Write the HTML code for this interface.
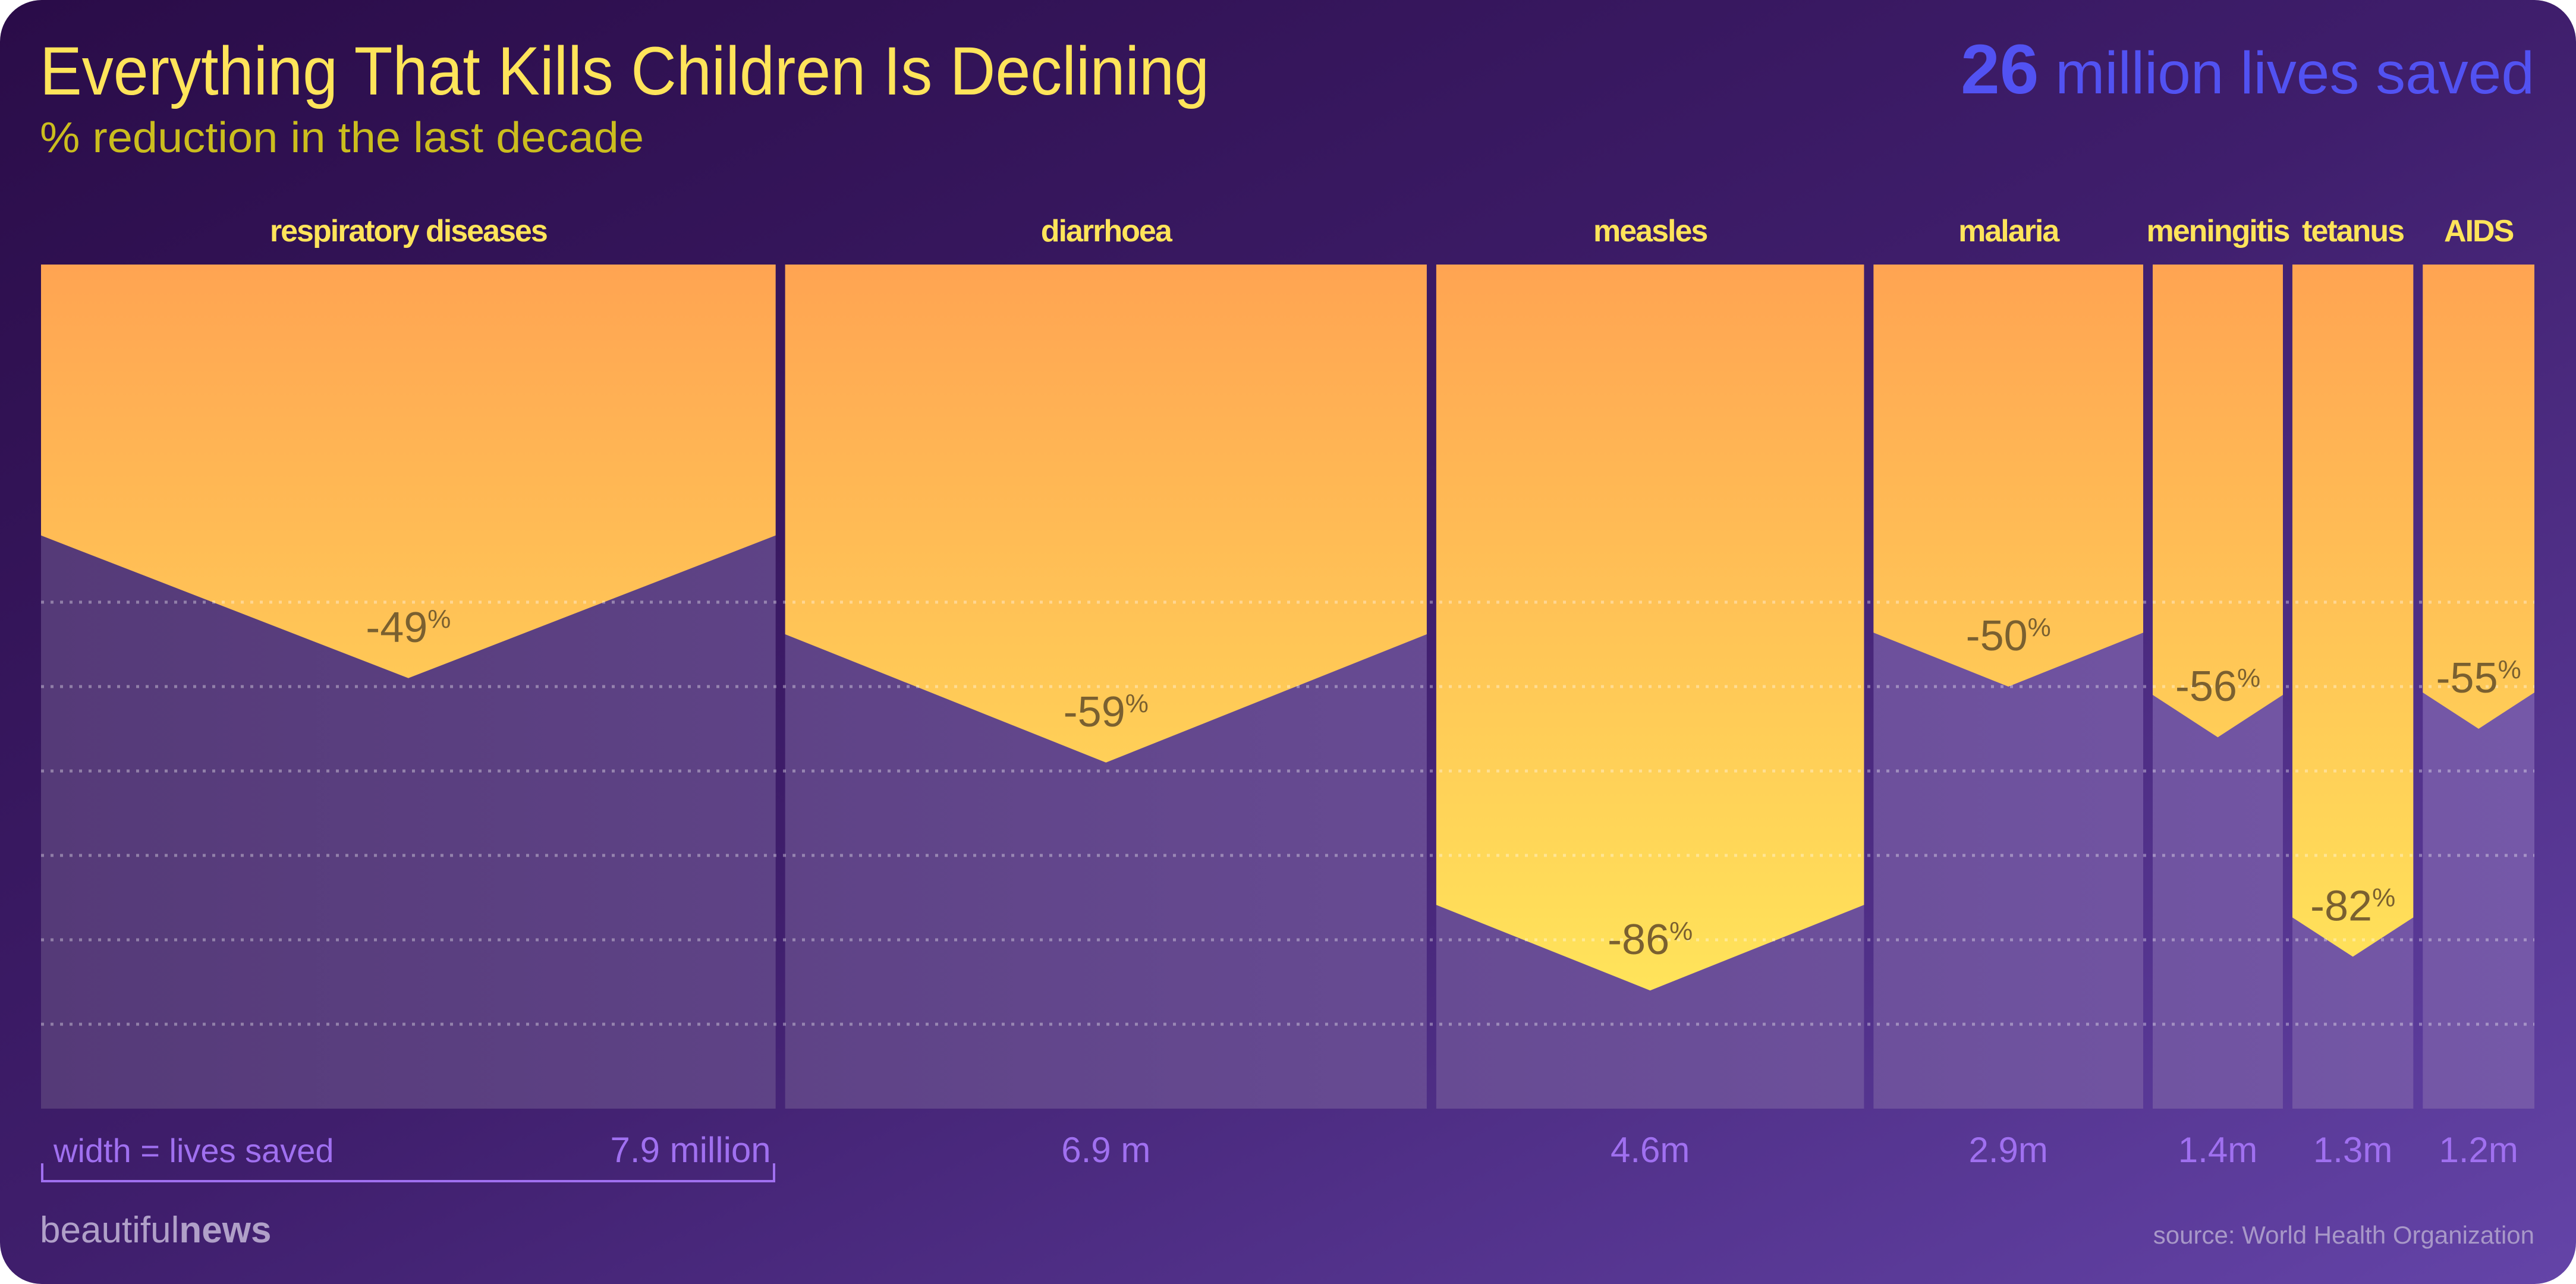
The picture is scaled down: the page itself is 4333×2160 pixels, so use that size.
<!DOCTYPE html>
<html><head><meta charset="utf-8"><style>
html,body{margin:0;padding:0;background:#fff;}
svg{display:block;}
text{font-family:"Liberation Sans","DejaVu Sans",sans-serif;}
</style></head><body>
<svg id="chart" width="4333" height="2160" viewBox="0 0 4333 2160" xmlns="http://www.w3.org/2000/svg">
<defs>
<linearGradient id="bg" x1="0" y1="0" x2="1" y2="1">
<stop offset="0" stop-color="#2a0c48"/><stop offset="0.5" stop-color="#3f1e6c"/><stop offset="1" stop-color="#6444a8"/>
</linearGradient>
<linearGradient id="pur" gradientUnits="userSpaceOnUse" x1="69" y1="0" x2="4263" y2="0">
<stop offset="0" stop-color="#553a78"/><stop offset="1" stop-color="#7558a8"/>
</linearGradient>
<linearGradient id="org" gradientUnits="userSpaceOnUse" x1="0" y1="445" x2="0" y2="1865">
<stop offset="0" stop-color="#ffa452"/><stop offset="0.85" stop-color="#ffe35a"/><stop offset="1" stop-color="#fff05c"/>
</linearGradient>
</defs>
<rect x="0" y="0" width="4333" height="2160" rx="70" fill="url(#bg)"/>
<text x="67" y="159" font-size="115" fill="#ffe45a" textLength="1967" lengthAdjust="spacingAndGlyphs">Everything That Kills Children Is Declining</text>
<text x="67" y="256" font-size="72" fill="#cbbd1e" textLength="1016" lengthAdjust="spacingAndGlyphs">% reduction in the last decade</text>
<text x="4263" y="157" font-size="118" fill="#5252f2" text-anchor="end"><tspan font-weight="bold">26</tspan><tspan font-size="100"> million lives saved</tspan></text>
<g id="panels"></g>
<g id="grid"></g>
<g id="labels"></g>
<text x="90" y="1955" font-size="56" fill="#a070f0">width = lives saved</text>
<path d="M71 1957 V1987 H1302 V1957" fill="none" stroke="#a070f0" stroke-width="4"/>
<text x="67" y="2090" font-size="62" fill="#b0a0c8">beautiful<tspan font-weight="bold">news</tspan></text>
<text x="4263" y="2092" font-size="42" fill="#a898c8" text-anchor="end">source: World Health Organization</text>
</svg>
<script>
const categories = ["respiratory diseases","diarrhoea","measles","malaria","meningitis","tetanus","AIDS"];
const livesSaved = [7.9,6.9,4.6,2.9,1.4,1.3,1.2];
const reductions = [49,59,86,50,56,82,55];
const livesLabels = ["7.9 million","6.9 m","4.6m","2.9m","1.4m","1.3m","1.2m"];
const gridTicks = [40,50,60,70,80,90];

const NS="http://www.w3.org/2000/svg";
const X0=69, X1=4263, GAP=16, TOP=445, BOT=1865;
const total=livesSaved.reduce((a,b)=>a+b,0);
const usable=(X1-X0)-GAP*(categories.length-1);
const xw=v=>v/total*usable;
const yp=p=>TOP+p/100*(BOT-TOP);
function mk(tag,attrs,parent){const e=document.createElementNS(NS,tag);for(const k in attrs)e.setAttribute(k,attrs[k]);parent.appendChild(e);return e;}
const panels=document.getElementById('panels'), grid=document.getElementById('grid'), labels=document.getElementById('labels');
let x=X0;
categories.forEach((c,i)=>{
  const w=xw(livesSaved[i]), half=w/2, cx=x+half;
  const tip=yp(reductions[i]);
  const drop=half>200?Math.min(0.40*half,240):0.65*half;
  const g=mk('g',{},panels);
  
  
  const r=mk('rect',{x:x,y:TOP,width:w,height:BOT-TOP,fill:'url(#pur)'},g);
  
  
  const p=mk('polygon',{points:`${x},${TOP} ${x+w},${TOP} ${x+w},${tip-drop} ${cx},${tip} ${x},${tip-drop}`,fill:'url(#org)'},g);
  
  
  const t=mk('text',{x:cx,y:406,'font-size':52,'font-weight':'bold',fill:'#ffe45a','text-anchor':'middle','letter-spacing':-2},labels);
  t.textContent=c;
  
  
  const v=mk('text',{x:cx,y:tip-61,'font-size':72,fill:'#7a6030','text-anchor':'middle'},labels);
  
  
  const s1=mk('tspan',{},v); s1.textContent='-'+reductions[i];
  const s2=mk('tspan',{'font-size':44,dy:-24},v); s2.textContent='%';
  const isFirst=i===0;
  const b=mk('text',{x:isFirst?x+w-8:cx,y:1955,'font-size':60,fill:'#a070f0','text-anchor':isFirst?'end':'middle'},labels);
  b.textContent=livesLabels[i];
  
  
  x+=w+GAP;
});
gridTicks.forEach(t=>{
  const l=mk('line',{x1:X0,x2:X1,y1:yp(t),y2:yp(t),stroke:'#ffffff','stroke-opacity':0.35,'stroke-width':5,'stroke-dasharray':'5 11'},grid);
  
  
});
</script>
</body></html>
